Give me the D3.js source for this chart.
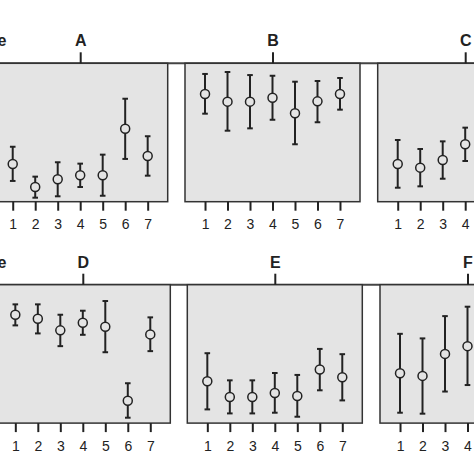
<!DOCTYPE html>
<html>
<head>
<meta charset="utf-8">
<script src="https://cdn.jsdelivr.net/npm/d3@7"></script>
<style>
  body { margin: 0; background: #fff; }
  svg { display: block; font-family: "Liberation Sans", Arial, sans-serif; }
</style>
</head>
<body>
<script>
// categories on the x axis of every panel
var categories = [1, 2, 3, 4, 5, 6, 7];
var panelNames = ['A', 'B', 'C', 'D', 'E', 'F'];

// means and interval ends (0-100 = panel bottom to top)
// C and F are cut at the right edge, only the first four points are visible
var meanA = [27.2, 10.6, 16.2, 19.1, 19.1, 52.7, 33.0];
var lowA  = [15.0,  2.9,  3.9, 10.6,  4.3, 30.9, 18.8];
var highA = [39.7, 18.1, 28.5, 27.5, 34.0, 74.4, 47.3];

var meanB = [77.8, 72.3, 72.3, 75.1, 63.9, 72.5, 77.8];
var lowB  = [63.6, 51.3, 53.0, 59.2, 41.5, 57.4, 66.5];
var highB = [92.3, 93.7, 91.5, 91.0, 86.7, 87.2, 89.4];

var meanC = [27.2, 24.6, 30.1, 41.5];
var lowC  = [10.1, 11.1, 16.6, 29.4];
var highC = [44.6, 38.1, 43.6, 53.5];

var meanD = [78.3, 75.4, 67.0, 72.5, 69.6, 16.2, 64.1];
var lowD  = [70.6, 64.8, 55.6, 63.8, 51.2,  3.9, 52.0];
var highD = [85.8, 85.8, 78.3, 81.2, 88.2, 28.8, 76.4];

var meanE = [30.2, 18.8, 18.8, 21.7, 19.6, 38.7, 33.1];
var lowE  = [ 9.9,  7.0,  7.0,  7.5,  4.6, 23.7, 16.4];
var highE = [50.5, 30.9, 30.9, 36.2, 34.8, 53.6, 49.8];

var meanF = [36.0, 34.1, 50.0, 55.6];
var lowF  = [ 7.5,  6.8, 22.8, 27.5];
var highF = [64.5, 61.2, 77.3, 84.1];

window.onload = function(){
    var W = 474, H = 474;
    var pw = 175, ph = 138.4;
    var rowTop = [63.3, 284.7];
    var colLeft = [[-7.3, 185, 377.7], [-4.7, 187.3, 380]];
    var bg = '#e4e4e4', ink = '#222';

    var svg = d3.select('body').append('svg')
        .attr('width', W)
        .attr('height', H);

    var x = d3.scaleLinear().domain([0.11, 7.89]).range([0, pw]);
    var y = d3.scaleLinear().domain([0, 100]).range([ph, 0]);

    var series = [
        [meanA, lowA, highA], [meanB, lowB, highB], [meanC, lowC, highC],
        [meanD, lowD, highD], [meanE, lowE, highE], [meanF, lowF, highF]
    ];

    rowTop.forEach(function(top, r){
        // long line along the top of each row
        svg.append('line')
            .attr('x1', 0).attr('x2', W)
            .attr('y1', top).attr('y2', top)
            .style('stroke', '#444')
            .style('stroke-width', 2);

        // cut-off row title on the left
        svg.append('text')
            .attr('x', 6.5)
            .attr('y', top - 17)
            .attr('text-anchor', 'end')
            .style('font-size', '16px')
            .style('font-weight', 'bold')
            .style('fill', ink)
            .text('Type');
    });

    series.forEach(function(s, i){
        var r = Math.floor(i / 3), c = i % 3;
        var left = colLeft[r][c];
        var g = svg.append('g')
            .attr('transform', 'translate(' + left + ',' + rowTop[r] + ')');

        g.append('rect')
            .attr('width', pw)
            .attr('height', ph)
            .style('fill', bg)
            .style('stroke', '#333')
            .style('stroke-width', 1.5);

        // x axis under the panel, only the ticks that land inside the page
        var shown = categories.filter(function(d){ return left + x(d) < W; });
        var xAxis = d3.axisBottom(x)
            .tickValues(shown)
            .tickSize(9)
            .tickPadding(8.5)
            .tickFormat(d3.format('d'));
        var ax = g.append('g')
            .attr('transform', 'translate(0,' + ph + ')')
            .call(xAxis);
        ax.select('.domain').remove();
        ax.selectAll('line').style('stroke', ink).style('stroke-width', 2);
        ax.selectAll('text')
            .style('font-size', '14px')
            .style('font-family', '"Liberation Sans", Arial, sans-serif')
            .style('fill', ink);

        // panel letter as a tick on top
        var topAxis = d3.axisTop(x)
            .tickValues([4])
            .tickSize(11)
            .tickPadding(6)
            .tickFormat(function(){ return panelNames[i]; });
        var at = g.append('g').call(topAxis);
        at.select('.domain').remove();
        at.selectAll('line').style('stroke', ink).style('stroke-width', 2);
        at.selectAll('text')
            .style('font-size', '16px')
            .style('font-weight', 'bold')
            .style('font-family', '"Liberation Sans", Arial, sans-serif')
            .style('fill', ink);

        var pts = s[0].map(function(m, k){
            return {cat: categories[k], mean: m, low: s[1][k], high: s[2][k]};
        });

        var bars = g.selectAll('.bar')
            .data(pts)
            .enter()
            .append('g')
            .attr('class', 'bar');

        bars.append('line')
            .attr('x1', function(d){ return x(d.cat); })
            .attr('x2', function(d){ return x(d.cat); })
            .attr('y1', function(d){ return y(d.low); })
            .attr('y2', function(d){ return y(d.high); })
            .style('stroke', ink)
            .style('stroke-width', 2);

        ['low', 'high'].forEach(function(key){
            bars.append('line')
                .attr('x1', function(d){ return x(d.cat) - 2.8; })
                .attr('x2', function(d){ return x(d.cat) + 2.8; })
                .attr('y1', function(d){ return y(d[key]); })
                .attr('y2', function(d){ return y(d[key]); })
                .style('stroke', ink)
                .style('stroke-width', 2);
        });

        bars.append('circle')
            .attr('cx', function(d){ return x(d.cat); })
            .attr('cy', function(d){ return y(d.mean); })
            .attr('r', 4.5)
            .style('fill', bg)
            .style('stroke', ink)
            .style('stroke-width', 1.5);
    });
};
</script>
</body>
</html>
